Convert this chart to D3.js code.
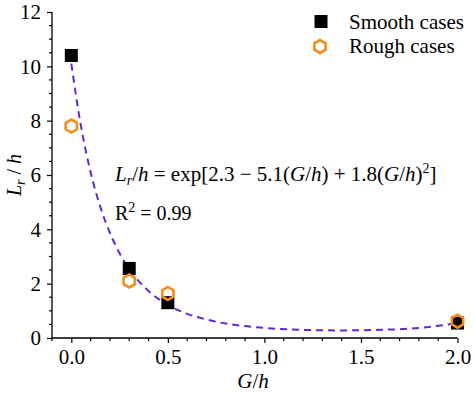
<!DOCTYPE html>
<html><head><meta charset="utf-8">
<script src="https://cdn.jsdelivr.net/npm/d3@7"></script>
<style>body{margin:0;background:#fff}svg{display:block}text{font-family:"Liberation Serif","Tinos","Times New Roman","DejaVu Serif",serif}</style>
</head><body>
<svg id="c" width="474" height="395"></svg>
<script>
const smoothX = [0, 0.3, 0.5, 2.0];
const smoothY = [10.4, 2.56, 1.3, 0.55];
const roughX = [0, 0.3, 0.5, 2.0];
const roughY = [7.8, 2.1, 1.64, 0.62];
const fitX = [0, 0.05, 0.1, 0.15, 0.2, 0.25, 0.3, 0.4, 0.5, 0.6, 0.7, 0.8, 0.9, 1.0, 1.2, 1.4, 1.6, 1.8, 2.0];
const fitY = [10.1, 7.8, 6.1, 4.83, 3.87, 3.12, 2.54, 1.73, 1.22, 0.89, 0.68, 0.53, 0.44, 0.37, 0.3, 0.28, 0.3, 0.37, 0.55];
const xTicks = [0.0, 0.5, 1.0, 1.5, 2.0];
const yTicks = [0, 2, 4, 6, 8, 10, 12];
const legendLabels = ["Smooth cases", "Rough cases"];

const svg = d3.select("#c");
const x = d3.scaleLinear().domain([-0.1, 2.0]).range([52, 457.5]);
const y = d3.scaleLinear().domain([0, 12]).range([338, 12]);
const ORANGE = "#f28c1c", PURPLE = "#6428d2";

const xAxis = d3.axisBottom(x).tickValues(xTicks).tickFormat(d3.format(".1f")).tickSize(5).tickPadding(6);
const gx = svg.append("g").attr("transform", "translate(0,338)").call(xAxis);
const xMinor = d3.range(-1, 21).map(i => i / 10).filter(v => !xTicks.some(t => Math.abs(t - v) < 1e-9));
gx.selectAll(".minor").data(xMinor).enter().append("line")
  .attr("x1", d => x(d)).attr("x2", d => x(d)).attr("y1", 0).attr("y2", 3).attr("stroke", "#000").attr("stroke-width", 1.2);

const yAxis = d3.axisLeft(y).tickValues(yTicks).tickSize(5).tickPadding(6);
const gy = svg.append("g").attr("transform", "translate(52,0)").call(yAxis);
const yMinor = d3.range(0, 25).map(i => i / 2).filter(v => !yTicks.includes(v));
gy.selectAll(".minor").data(yMinor).enter().append("line")
  .attr("x1", 0).attr("x2", -3).attr("y1", d => y(d)).attr("y2", d => y(d)).attr("stroke", "#000").attr("stroke-width", 1.2);

[gx, gy].forEach(g => {
  g.attr("font-family", null).attr("font-size", null);
  g.select(".domain").attr("stroke", "#000").attr("stroke-width", 1.3);
  g.selectAll(".tick line").attr("stroke", "#000").attr("stroke-width", 1.2);
  g.selectAll(".tick text").attr("font-size", 21).attr("fill", "#000");
});
gx.select(".domain").attr("d", `M${x(-0.1)},0H${x(2.0)}`);
gy.select(".domain").attr("d", `M0,${y(0)}V${y(12)}`);

const fit = fitX.map((v, i) => [v, fitY[i]]);
svg.append("path").datum(fit)
  .attr("d", d3.line().x(d => x(d[0])).y(d => y(d[1])).curve(d3.curveMonotoneX))
  .attr("fill", "none").attr("stroke", PURPLE).attr("stroke-width", 2).attr("stroke-dasharray", "7,5");

const hex = (cx, cy, r) => d3.range(6).map(k => {
  const a = Math.PI / 2 + k * Math.PI / 3;
  return [cx + r * Math.cos(a), cy - r * Math.sin(a)];
});
function square(g, cx, cy) {
  g.append("rect").attr("x", cx - 6.5).attr("y", cy - 6.5).attr("width", 13).attr("height", 13).attr("fill", "#000");
}
function hexagon(g, cx, cy) {
  g.append("path").attr("d", d3.line()(hex(cx, cy, 6.5)) + "Z")
    .attr("fill", "none").attr("stroke", ORANGE).attr("stroke-width", 2.6);
}
const gm = svg.append("g");
smoothX.forEach((v, i) => square(gm, x(v), y(smoothY[i])));
roughX.forEach((v, i) => hexagon(gm, x(v), y(roughY[i])));

square(svg, 321, 21.5);
hexagon(svg, 320, 46.5);
svg.append("text").attr("x", 349).attr("y", 28.5).attr("font-size", 21).text(legendLabels[0]);
svg.append("text").attr("x", 349).attr("y", 53).attr("font-size", 21).text(legendLabels[1]);

const eq = svg.append("text").attr("x", 115).attr("y", 181).attr("font-size", 21);
eq.append("tspan").attr("font-style", "italic").text("L");
eq.append("tspan").attr("font-style", "italic").attr("font-size", 14).attr("dy", 4).text("r");
eq.append("tspan").attr("dy", -4).text("/");
eq.append("tspan").attr("font-style", "italic").text("h");
eq.append("tspan").text(" = exp[2.3 \u2212 5.1(");
eq.append("tspan").attr("font-style", "italic").text("G");
eq.append("tspan").text("/");
eq.append("tspan").attr("font-style", "italic").text("h");
eq.append("tspan").text(") + 1.8(");
eq.append("tspan").attr("font-style", "italic").text("G");
eq.append("tspan").text("/");
eq.append("tspan").attr("font-style", "italic").text("h");
eq.append("tspan").text(")");
eq.append("tspan").attr("font-size", 14).attr("dy", -8).text("2");
eq.append("tspan").attr("dy", 8).text("]");

const r2 = svg.append("text").attr("x", 115).attr("y", 220).attr("font-size", 20);
r2.append("tspan").text("R");
r2.append("tspan").attr("font-size", 14).attr("dy", -8).text("2");
r2.append("tspan").attr("dy", 8).text(" = 0.99");

const xt = svg.append("text").attr("x", 253).attr("y", 388).attr("text-anchor", "middle").attr("font-size", 21);
xt.append("tspan").attr("font-style", "italic").text("G");
xt.append("tspan").text("/");
xt.append("tspan").attr("font-style", "italic").text("h");

const yt = svg.append("text").attr("transform", "translate(21,175) rotate(-90)").attr("text-anchor", "middle").attr("font-size", 20);
yt.append("tspan").attr("font-style", "italic").text("L");
yt.append("tspan").attr("font-style", "italic").attr("font-size", 14).attr("dy", 4).text("r");
yt.append("tspan").attr("dy", -4).text(" / ");
yt.append("tspan").attr("font-style", "italic").text("h");
</script>
</body></html>
